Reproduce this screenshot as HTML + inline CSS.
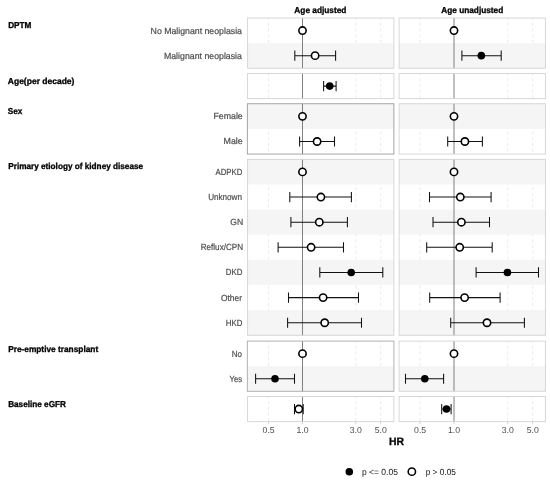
<!DOCTYPE html><html><head><meta charset="utf-8"><title>Forest plot</title>
<style>html,body{margin:0;padding:0;background:#fff}svg{display:block}text{font-family:"Liberation Sans",Arial,Helvetica,sans-serif;text-rendering:geometricPrecision}</style></head><body>
<svg width="550" height="483" viewBox="0 0 550 483">
<rect width="550" height="483" fill="#fff"/>
<line x1="268.60" x2="268.60" y1="18.00" y2="68.20" stroke="#e8e8e8" stroke-width="0.9" stroke-dasharray="2.9 2.9" stroke-dashoffset="1.2"/>
<line x1="355.80" x2="355.80" y1="18.00" y2="68.20" stroke="#e8e8e8" stroke-width="0.9" stroke-dasharray="2.9 2.9" stroke-dashoffset="1.2"/>
<line x1="380.70" x2="380.70" y1="18.00" y2="68.20" stroke="#e8e8e8" stroke-width="0.9" stroke-dasharray="2.9 2.9" stroke-dashoffset="1.2"/>
<rect x="247.60" y="43.10" width="146.30" height="25.10" fill="#f5f5f5"/>
<line x1="302.50" x2="302.50" y1="18.00" y2="68.20" stroke="#808080" stroke-width="1"/>
<circle cx="302.50" cy="30.55" r="3.65" fill="#fff" stroke="#000" stroke-width="1.6"/>
<path d="M294.80 55.65H335.60M294.80 50.55V60.75M335.60 50.55V60.75" stroke="#111" stroke-width="1.05" fill="none"/>
<circle cx="315.10" cy="55.65" r="3.65" fill="#fff" stroke="#000" stroke-width="1.6"/>
<rect x="247.60" y="18.00" width="146.30" height="50.20" fill="none" stroke="#d3d3d3" stroke-width="0.9"/>
<line x1="268.60" x2="268.60" y1="73.55" y2="98.65" stroke="#e8e8e8" stroke-width="0.9" stroke-dasharray="2.9 2.9" stroke-dashoffset="1.2"/>
<line x1="355.80" x2="355.80" y1="73.55" y2="98.65" stroke="#e8e8e8" stroke-width="0.9" stroke-dasharray="2.9 2.9" stroke-dashoffset="1.2"/>
<line x1="380.70" x2="380.70" y1="73.55" y2="98.65" stroke="#e8e8e8" stroke-width="0.9" stroke-dasharray="2.9 2.9" stroke-dashoffset="1.2"/>
<line x1="302.50" x2="302.50" y1="73.55" y2="98.65" stroke="#808080" stroke-width="1"/>
<path d="M323.60 86.10H336.10M323.60 81.00V91.20M336.10 81.00V91.20" stroke="#111" stroke-width="1.05" fill="none"/>
<circle cx="329.70" cy="86.10" r="3.8" fill="#000"/>
<rect x="247.60" y="73.55" width="146.30" height="25.10" fill="none" stroke="#d3d3d3" stroke-width="0.9"/>
<line x1="268.60" x2="268.60" y1="103.75" y2="154.05" stroke="#e8e8e8" stroke-width="0.9" stroke-dasharray="2.9 2.9" stroke-dashoffset="1.2"/>
<line x1="355.80" x2="355.80" y1="103.75" y2="154.05" stroke="#e8e8e8" stroke-width="0.9" stroke-dasharray="2.9 2.9" stroke-dashoffset="1.2"/>
<line x1="380.70" x2="380.70" y1="103.75" y2="154.05" stroke="#e8e8e8" stroke-width="0.9" stroke-dasharray="2.9 2.9" stroke-dashoffset="1.2"/>
<rect x="247.60" y="103.75" width="146.30" height="25.15" fill="#f5f5f5"/>
<line x1="302.50" x2="302.50" y1="103.75" y2="154.05" stroke="#808080" stroke-width="1"/>
<circle cx="302.50" cy="116.33" r="3.65" fill="#fff" stroke="#000" stroke-width="1.6"/>
<path d="M299.60 141.48H334.50M299.60 136.38V146.58M334.50 136.38V146.58" stroke="#111" stroke-width="1.05" fill="none"/>
<circle cx="317.10" cy="141.48" r="3.65" fill="#fff" stroke="#000" stroke-width="1.6"/>
<rect x="247.35" y="103.75" width="146.55" height="50.30" fill="none" stroke="#9c9c9c" stroke-width="0.9"/>
<line x1="268.60" x2="268.60" y1="159.35" y2="335.30" stroke="#e8e8e8" stroke-width="0.9" stroke-dasharray="2.9 2.9" stroke-dashoffset="1.2"/>
<line x1="355.80" x2="355.80" y1="159.35" y2="335.30" stroke="#e8e8e8" stroke-width="0.9" stroke-dasharray="2.9 2.9" stroke-dashoffset="1.2"/>
<line x1="380.70" x2="380.70" y1="159.35" y2="335.30" stroke="#e8e8e8" stroke-width="0.9" stroke-dasharray="2.9 2.9" stroke-dashoffset="1.2"/>
<rect x="247.60" y="159.35" width="146.30" height="25.14" fill="#f5f5f5"/>
<rect x="247.60" y="209.62" width="146.30" height="25.14" fill="#f5f5f5"/>
<rect x="247.60" y="259.89" width="146.30" height="25.14" fill="#f5f5f5"/>
<rect x="247.60" y="310.16" width="146.30" height="25.14" fill="#f5f5f5"/>
<line x1="302.50" x2="302.50" y1="159.35" y2="335.30" stroke="#808080" stroke-width="1"/>
<circle cx="302.50" cy="171.92" r="3.65" fill="#fff" stroke="#000" stroke-width="1.6"/>
<path d="M289.80 197.05H351.40M289.80 191.95V202.15M351.40 191.95V202.15" stroke="#111" stroke-width="1.05" fill="none"/>
<circle cx="320.90" cy="197.05" r="3.65" fill="#fff" stroke="#000" stroke-width="1.6"/>
<path d="M290.90 222.19H347.40M290.90 217.09V227.29M347.40 217.09V227.29" stroke="#111" stroke-width="1.05" fill="none"/>
<circle cx="319.30" cy="222.19" r="3.65" fill="#fff" stroke="#000" stroke-width="1.6"/>
<path d="M278.10 247.32H343.50M278.10 242.22V252.42M343.50 242.22V252.42" stroke="#111" stroke-width="1.05" fill="none"/>
<circle cx="311.10" cy="247.32" r="3.65" fill="#fff" stroke="#000" stroke-width="1.6"/>
<path d="M319.80 272.46H382.80M319.80 267.36V277.56M382.80 267.36V277.56" stroke="#111" stroke-width="1.05" fill="none"/>
<circle cx="351.20" cy="272.46" r="3.8" fill="#000"/>
<path d="M288.50 297.60H358.50M288.50 292.50V302.70M358.50 292.50V302.70" stroke="#111" stroke-width="1.05" fill="none"/>
<circle cx="323.10" cy="297.60" r="3.65" fill="#fff" stroke="#000" stroke-width="1.6"/>
<path d="M287.60 322.73H361.50M287.60 317.63V327.83M361.50 317.63V327.83" stroke="#111" stroke-width="1.05" fill="none"/>
<circle cx="324.70" cy="322.73" r="3.65" fill="#fff" stroke="#000" stroke-width="1.6"/>
<rect x="247.60" y="159.35" width="146.30" height="175.95" fill="none" stroke="#d3d3d3" stroke-width="0.9"/>
<line x1="268.60" x2="268.60" y1="341.10" y2="391.30" stroke="#e8e8e8" stroke-width="0.9" stroke-dasharray="2.9 2.9" stroke-dashoffset="1.2"/>
<line x1="355.80" x2="355.80" y1="341.10" y2="391.30" stroke="#e8e8e8" stroke-width="0.9" stroke-dasharray="2.9 2.9" stroke-dashoffset="1.2"/>
<line x1="380.70" x2="380.70" y1="341.10" y2="391.30" stroke="#e8e8e8" stroke-width="0.9" stroke-dasharray="2.9 2.9" stroke-dashoffset="1.2"/>
<rect x="247.60" y="366.20" width="146.30" height="25.10" fill="#f5f5f5"/>
<line x1="302.50" x2="302.50" y1="341.10" y2="391.30" stroke="#808080" stroke-width="1"/>
<circle cx="302.50" cy="353.65" r="3.65" fill="#fff" stroke="#000" stroke-width="1.6"/>
<path d="M255.60 378.75H294.50M255.60 373.65V383.85M294.50 373.65V383.85" stroke="#111" stroke-width="1.05" fill="none"/>
<circle cx="275.00" cy="378.75" r="3.8" fill="#000"/>
<rect x="247.35" y="341.10" width="146.55" height="50.20" fill="none" stroke="#aaaaaa" stroke-width="0.9"/>
<line x1="268.60" x2="268.60" y1="396.50" y2="421.65" stroke="#e8e8e8" stroke-width="0.9" stroke-dasharray="2.9 2.9" stroke-dashoffset="1.2"/>
<line x1="355.80" x2="355.80" y1="396.50" y2="421.65" stroke="#e8e8e8" stroke-width="0.9" stroke-dasharray="2.9 2.9" stroke-dashoffset="1.2"/>
<line x1="380.70" x2="380.70" y1="396.50" y2="421.65" stroke="#e8e8e8" stroke-width="0.9" stroke-dasharray="2.9 2.9" stroke-dashoffset="1.2"/>
<line x1="302.50" x2="302.50" y1="396.50" y2="421.65" stroke="#808080" stroke-width="1"/>
<path d="M294.50 409.07H303.20M294.50 403.97V414.18M303.20 403.97V414.18" stroke="#111" stroke-width="1.05" fill="none"/>
<circle cx="298.80" cy="409.07" r="3.65" fill="#fff" stroke="#000" stroke-width="1.6"/>
<rect x="247.60" y="396.50" width="146.30" height="25.15" fill="none" stroke="#d3d3d3" stroke-width="0.9"/>
<text x="268.60" y="432.9" font-size="8.7" fill="#4d4d4d" text-anchor="middle">0.5</text>
<line x1="268.60" x2="268.60" y1="421.65" y2="424.15" stroke="#d3d3d3" stroke-width="1"/>
<text x="302.50" y="432.9" font-size="8.7" fill="#4d4d4d" text-anchor="middle">1.0</text>
<line x1="302.50" x2="302.50" y1="421.65" y2="424.15" stroke="#d3d3d3" stroke-width="1"/>
<text x="355.80" y="432.9" font-size="8.7" fill="#4d4d4d" text-anchor="middle">3.0</text>
<line x1="355.80" x2="355.80" y1="421.65" y2="424.15" stroke="#d3d3d3" stroke-width="1"/>
<text x="380.70" y="432.9" font-size="8.7" fill="#4d4d4d" text-anchor="middle">5.0</text>
<line x1="380.70" x2="380.70" y1="421.65" y2="424.15" stroke="#d3d3d3" stroke-width="1"/>
<line x1="420.10" x2="420.10" y1="18.00" y2="68.20" stroke="#e8e8e8" stroke-width="0.9" stroke-dasharray="2.9 2.9" stroke-dashoffset="1.2"/>
<line x1="507.72" x2="507.72" y1="18.00" y2="68.20" stroke="#e8e8e8" stroke-width="0.9" stroke-dasharray="2.9 2.9" stroke-dashoffset="1.2"/>
<line x1="532.70" x2="532.70" y1="18.00" y2="68.20" stroke="#e8e8e8" stroke-width="0.9" stroke-dasharray="2.9 2.9" stroke-dashoffset="1.2"/>
<rect x="399.10" y="43.10" width="146.30" height="25.10" fill="#f5f5f5"/>
<line x1="454.00" x2="454.00" y1="18.00" y2="68.20" stroke="#808080" stroke-width="1"/>
<circle cx="454.00" cy="30.55" r="3.65" fill="#fff" stroke="#000" stroke-width="1.6"/>
<path d="M461.90 55.65H501.20M461.90 50.55V60.75M501.20 50.55V60.75" stroke="#111" stroke-width="1.05" fill="none"/>
<circle cx="481.30" cy="55.65" r="3.8" fill="#000"/>
<rect x="399.10" y="18.00" width="146.30" height="50.20" fill="none" stroke="#d3d3d3" stroke-width="0.9"/>
<line x1="420.10" x2="420.10" y1="73.55" y2="98.65" stroke="#e8e8e8" stroke-width="0.9" stroke-dasharray="2.9 2.9" stroke-dashoffset="1.2"/>
<line x1="507.72" x2="507.72" y1="73.55" y2="98.65" stroke="#e8e8e8" stroke-width="0.9" stroke-dasharray="2.9 2.9" stroke-dashoffset="1.2"/>
<line x1="532.70" x2="532.70" y1="73.55" y2="98.65" stroke="#e8e8e8" stroke-width="0.9" stroke-dasharray="2.9 2.9" stroke-dashoffset="1.2"/>
<line x1="454.00" x2="454.00" y1="73.55" y2="98.65" stroke="#808080" stroke-width="1"/>
<rect x="399.10" y="73.55" width="146.30" height="25.10" fill="none" stroke="#d3d3d3" stroke-width="0.9"/>
<line x1="420.10" x2="420.10" y1="103.75" y2="154.05" stroke="#e8e8e8" stroke-width="0.9" stroke-dasharray="2.9 2.9" stroke-dashoffset="1.2"/>
<line x1="507.72" x2="507.72" y1="103.75" y2="154.05" stroke="#e8e8e8" stroke-width="0.9" stroke-dasharray="2.9 2.9" stroke-dashoffset="1.2"/>
<line x1="532.70" x2="532.70" y1="103.75" y2="154.05" stroke="#e8e8e8" stroke-width="0.9" stroke-dasharray="2.9 2.9" stroke-dashoffset="1.2"/>
<rect x="399.10" y="103.75" width="146.30" height="25.15" fill="#f5f5f5"/>
<line x1="454.00" x2="454.00" y1="103.75" y2="154.05" stroke="#808080" stroke-width="1"/>
<circle cx="454.00" cy="116.33" r="3.65" fill="#fff" stroke="#000" stroke-width="1.6"/>
<path d="M447.70 141.48H482.40M447.70 136.38V146.58M482.40 136.38V146.58" stroke="#111" stroke-width="1.05" fill="none"/>
<circle cx="464.90" cy="141.48" r="3.65" fill="#fff" stroke="#000" stroke-width="1.6"/>
<rect x="399.10" y="103.75" width="146.30" height="50.30" fill="none" stroke="#d3d3d3" stroke-width="0.9"/>
<line x1="420.10" x2="420.10" y1="159.35" y2="335.30" stroke="#e8e8e8" stroke-width="0.9" stroke-dasharray="2.9 2.9" stroke-dashoffset="1.2"/>
<line x1="507.72" x2="507.72" y1="159.35" y2="335.30" stroke="#e8e8e8" stroke-width="0.9" stroke-dasharray="2.9 2.9" stroke-dashoffset="1.2"/>
<line x1="532.70" x2="532.70" y1="159.35" y2="335.30" stroke="#e8e8e8" stroke-width="0.9" stroke-dasharray="2.9 2.9" stroke-dashoffset="1.2"/>
<rect x="399.10" y="159.35" width="146.30" height="25.14" fill="#f5f5f5"/>
<rect x="399.10" y="209.62" width="146.30" height="25.14" fill="#f5f5f5"/>
<rect x="399.10" y="259.89" width="146.30" height="25.14" fill="#f5f5f5"/>
<rect x="399.10" y="310.16" width="146.30" height="25.14" fill="#f5f5f5"/>
<line x1="454.00" x2="454.00" y1="159.35" y2="335.30" stroke="#808080" stroke-width="1"/>
<circle cx="454.00" cy="171.92" r="3.65" fill="#fff" stroke="#000" stroke-width="1.6"/>
<path d="M429.50 197.05H491.10M429.50 191.95V202.15M491.10 191.95V202.15" stroke="#111" stroke-width="1.05" fill="none"/>
<circle cx="460.30" cy="197.05" r="3.65" fill="#fff" stroke="#000" stroke-width="1.6"/>
<path d="M433.00 222.19H489.50M433.00 217.09V227.29M489.50 217.09V227.29" stroke="#111" stroke-width="1.05" fill="none"/>
<circle cx="461.40" cy="222.19" r="3.65" fill="#fff" stroke="#000" stroke-width="1.6"/>
<path d="M426.70 247.32H492.20M426.70 242.22V252.42M492.20 242.22V252.42" stroke="#111" stroke-width="1.05" fill="none"/>
<circle cx="459.70" cy="247.32" r="3.65" fill="#fff" stroke="#000" stroke-width="1.6"/>
<path d="M476.10 272.46H538.50M476.10 267.36V277.56M538.50 267.36V277.56" stroke="#111" stroke-width="1.05" fill="none"/>
<circle cx="507.40" cy="272.46" r="3.8" fill="#000"/>
<path d="M429.70 297.60H500.10M429.70 292.50V302.70M500.10 292.50V302.70" stroke="#111" stroke-width="1.05" fill="none"/>
<circle cx="464.60" cy="297.60" r="3.65" fill="#fff" stroke="#000" stroke-width="1.6"/>
<path d="M450.70 322.73H524.40M450.70 317.63V327.83M524.40 317.63V327.83" stroke="#111" stroke-width="1.05" fill="none"/>
<circle cx="487.00" cy="322.73" r="3.65" fill="#fff" stroke="#000" stroke-width="1.6"/>
<rect x="399.10" y="159.35" width="146.30" height="175.95" fill="none" stroke="#d3d3d3" stroke-width="0.9"/>
<line x1="420.10" x2="420.10" y1="341.10" y2="391.30" stroke="#e8e8e8" stroke-width="0.9" stroke-dasharray="2.9 2.9" stroke-dashoffset="1.2"/>
<line x1="507.72" x2="507.72" y1="341.10" y2="391.30" stroke="#e8e8e8" stroke-width="0.9" stroke-dasharray="2.9 2.9" stroke-dashoffset="1.2"/>
<line x1="532.70" x2="532.70" y1="341.10" y2="391.30" stroke="#e8e8e8" stroke-width="0.9" stroke-dasharray="2.9 2.9" stroke-dashoffset="1.2"/>
<rect x="399.10" y="366.20" width="146.30" height="25.10" fill="#f5f5f5"/>
<line x1="454.00" x2="454.00" y1="341.10" y2="391.30" stroke="#808080" stroke-width="1"/>
<circle cx="454.00" cy="353.65" r="3.65" fill="#fff" stroke="#000" stroke-width="1.6"/>
<path d="M405.50 378.75H443.60M405.50 373.65V383.85M443.60 373.65V383.85" stroke="#111" stroke-width="1.05" fill="none"/>
<circle cx="424.80" cy="378.75" r="3.8" fill="#000"/>
<rect x="399.10" y="341.10" width="146.30" height="50.20" fill="none" stroke="#d3d3d3" stroke-width="0.9"/>
<line x1="420.10" x2="420.10" y1="396.50" y2="421.65" stroke="#e8e8e8" stroke-width="0.9" stroke-dasharray="2.9 2.9" stroke-dashoffset="1.2"/>
<line x1="507.72" x2="507.72" y1="396.50" y2="421.65" stroke="#e8e8e8" stroke-width="0.9" stroke-dasharray="2.9 2.9" stroke-dashoffset="1.2"/>
<line x1="532.70" x2="532.70" y1="396.50" y2="421.65" stroke="#e8e8e8" stroke-width="0.9" stroke-dasharray="2.9 2.9" stroke-dashoffset="1.2"/>
<line x1="454.00" x2="454.00" y1="396.50" y2="421.65" stroke="#808080" stroke-width="1"/>
<path d="M441.70 409.07H451.10M441.70 403.97V414.18M451.10 403.97V414.18" stroke="#111" stroke-width="1.05" fill="none"/>
<circle cx="446.50" cy="409.07" r="3.8" fill="#000"/>
<rect x="399.10" y="396.50" width="146.30" height="25.15" fill="none" stroke="#d3d3d3" stroke-width="0.9"/>
<text x="420.10" y="432.9" font-size="8.7" fill="#4d4d4d" text-anchor="middle">0.5</text>
<line x1="420.10" x2="420.10" y1="421.65" y2="424.15" stroke="#d3d3d3" stroke-width="1"/>
<text x="454.00" y="432.9" font-size="8.7" fill="#4d4d4d" text-anchor="middle">1.0</text>
<line x1="454.00" x2="454.00" y1="421.65" y2="424.15" stroke="#d3d3d3" stroke-width="1"/>
<text x="507.72" y="432.9" font-size="8.7" fill="#4d4d4d" text-anchor="middle">3.0</text>
<line x1="507.72" x2="507.72" y1="421.65" y2="424.15" stroke="#d3d3d3" stroke-width="1"/>
<text x="532.70" y="432.9" font-size="8.7" fill="#4d4d4d" text-anchor="middle">5.0</text>
<line x1="532.70" x2="532.70" y1="421.65" y2="424.15" stroke="#d3d3d3" stroke-width="1"/>
<text id="t1" x="320.39" textLength="52.13" lengthAdjust="spacingAndGlyphs" y="12.6" font-size="8.6" font-weight="bold" fill="#000" stroke="#000" stroke-width="0.3" text-anchor="middle">Age adjusted</text>
<text id="t2" x="472.25" textLength="61.91" lengthAdjust="spacingAndGlyphs" y="12.6" font-size="8.6" font-weight="bold" fill="#000" stroke="#000" stroke-width="0.3" text-anchor="middle">Age unadjusted</text>
<text id="g0" x="8.14" textLength="23.28" lengthAdjust="spacingAndGlyphs" y="27.50" font-size="8.6" font-weight="bold" fill="#000" stroke="#000" stroke-width="0.3">DPTM</text>
<text id="r0" x="241.96" textLength="91.37" lengthAdjust="spacingAndGlyphs" y="33.55" font-size="8.9" fill="#4d4d4d" stroke="#4d4d4d" stroke-width="0.2" text-anchor="end">No Malignant neoplasia</text>
<text id="r1" x="241.96" textLength="78.02" lengthAdjust="spacingAndGlyphs" y="58.65" font-size="8.9" fill="#4d4d4d" stroke="#4d4d4d" stroke-width="0.2" text-anchor="end">Malignant neoplasia</text>
<text id="g2" x="7.82" textLength="66.62" lengthAdjust="spacingAndGlyphs" y="84.45" font-size="8.6" font-weight="bold" fill="#000" stroke="#000" stroke-width="0.3">Age(per decade)</text>
<text id="g3" x="7.82" textLength="14.60" lengthAdjust="spacingAndGlyphs" y="113.75" font-size="8.6" font-weight="bold" fill="#000" stroke="#000" stroke-width="0.3">Sex</text>
<text id="r3" x="242.76" textLength="29.31" lengthAdjust="spacingAndGlyphs" y="119.33" font-size="8.9" fill="#4d4d4d" stroke="#4d4d4d" stroke-width="0.2" text-anchor="end">Female</text>
<text id="r4" x="242.76" textLength="19.20" lengthAdjust="spacingAndGlyphs" y="144.48" font-size="8.9" fill="#4d4d4d" stroke="#4d4d4d" stroke-width="0.2" text-anchor="end">Male</text>
<text id="g5" x="8.22" textLength="134.90" lengthAdjust="spacingAndGlyphs" y="169.25" font-size="8.6" font-weight="bold" fill="#000" stroke="#000" stroke-width="0.3">Primary etiology of kidney disease</text>
<text id="r5" x="242.36" textLength="26.89" lengthAdjust="spacingAndGlyphs" y="174.92" font-size="8.9" fill="#4d4d4d" stroke="#4d4d4d" stroke-width="0.2" text-anchor="end">ADPKD</text>
<text id="r6" x="241.96" textLength="33.82" lengthAdjust="spacingAndGlyphs" y="200.05" font-size="8.9" fill="#4d4d4d" stroke="#4d4d4d" stroke-width="0.2" text-anchor="end">Unknown</text>
<text id="r7" x="243.16" textLength="12.89" lengthAdjust="spacingAndGlyphs" y="225.19" font-size="8.9" fill="#4d4d4d" stroke="#4d4d4d" stroke-width="0.2" text-anchor="end">GN</text>
<text id="r8" x="243.16" textLength="42.50" lengthAdjust="spacingAndGlyphs" y="250.32" font-size="8.9" fill="#4d4d4d" stroke="#4d4d4d" stroke-width="0.2" text-anchor="end">Reflux/CPN</text>
<text id="r9" x="242.36" textLength="16.66" lengthAdjust="spacingAndGlyphs" y="275.46" font-size="8.9" fill="#4d4d4d" stroke="#4d4d4d" stroke-width="0.2" text-anchor="end">DKD</text>
<text id="r10" x="241.96" textLength="20.90" lengthAdjust="spacingAndGlyphs" y="300.60" font-size="8.9" fill="#4d4d4d" stroke="#4d4d4d" stroke-width="0.2" text-anchor="end">Other</text>
<text id="r11" x="242.36" textLength="16.66" lengthAdjust="spacingAndGlyphs" y="325.73" font-size="8.9" fill="#4d4d4d" stroke="#4d4d4d" stroke-width="0.2" text-anchor="end">HKD</text>
<text id="g12" x="8.14" textLength="90.05" lengthAdjust="spacingAndGlyphs" y="351.50" font-size="8.6" font-weight="bold" fill="#000" stroke="#000" stroke-width="0.3">Pre-emptive transplant</text>
<text id="r12" x="241.96" textLength="10.21" lengthAdjust="spacingAndGlyphs" y="356.65" font-size="8.9" fill="#4d4d4d" stroke="#4d4d4d" stroke-width="0.2" text-anchor="end">No</text>
<text id="r13" x="241.96" textLength="12.45" lengthAdjust="spacingAndGlyphs" y="381.75" font-size="8.9" fill="#4d4d4d" stroke="#4d4d4d" stroke-width="0.2" text-anchor="end">Yes</text>
<text id="g14" x="8.14" textLength="57.79" lengthAdjust="spacingAndGlyphs" y="407.10" font-size="8.6" font-weight="bold" fill="#000" stroke="#000" stroke-width="0.3">Baseline eGFR</text>
<text id="h1" x="396.44" textLength="15.04" lengthAdjust="spacingAndGlyphs" y="445.2" font-size="10.7" font-weight="bold" fill="#000" stroke="#000" stroke-width="0.3" text-anchor="middle">HR</text>
<circle cx="349.3" cy="471.8" r="3.8" fill="#000"/>
<text id="l1" x="361.88" textLength="36.00" lengthAdjust="spacingAndGlyphs" y="474.7" font-size="8.9" fill="#111">p &lt;= 0.05</text>
<circle cx="411.85" cy="471.65" r="3.65" fill="#fff" stroke="#000" stroke-width="1.6"/>
<text id="l2" x="425.66" textLength="30.32" lengthAdjust="spacingAndGlyphs" y="474.7" font-size="8.9" fill="#111">p &gt; 0.05</text>
</svg></body></html>
